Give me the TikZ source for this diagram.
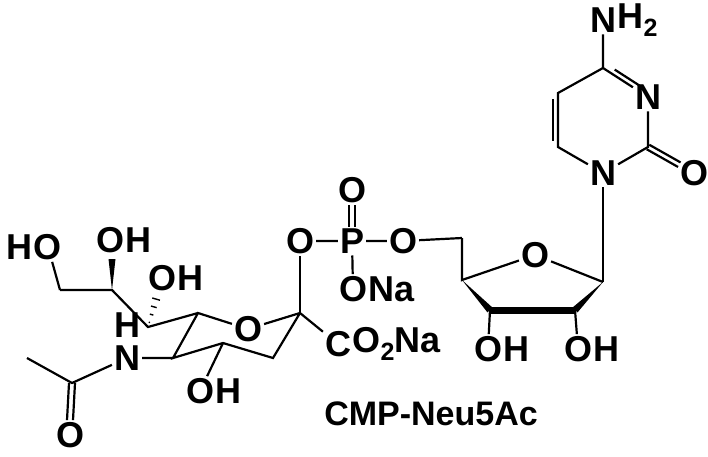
\documentclass[tikz,border=0pt]{standalone}
\usepackage{fontspec}
\setmainfont{Liberation Sans}
\usetikzlibrary{calc}
\newcommand{\sub}[1]{\raisebox{-0.4ex}{\fontsize{25}{25}\selectfont #1}}
\begin{document}
\begin{tikzpicture}[x=1pt,y=-1pt,line width=2.2pt,
  atom/.style={inner sep=1pt,font=\fontsize{36}{36}\selectfont\bfseries},
  tail/.style={inner sep=0pt,xshift=-1.5pt,font=\fontsize{36}{36}\selectfont\bfseries},
  bond/.style={line width=2.2pt}]
\useasboundingbox (0,0) rectangle (708,456);
% ---- cytosine
\coordinate (c4) at (603,68);
\coordinate (c5) at (558,93);
\coordinate (c6) at (558,147);
\coordinate (c2) at (648,147);
\node[atom] (nh) at (603,20) {N};
\node[tail,anchor=west] (nhh) at (nh.east) {H\sub{2}};
\node[atom] (n3) at (648,97) {N};
\node[atom] (n1) at (603,173) {N};
\node[atom] (o2) at (694,173) {O};
\draw[bond] (nh) -- (c4) -- (c5) -- (c6) -- (n1) -- (c2) -- (n3) -- (c4);
\draw[bond] ($(c4)!0.2!(n3)!5pt!90:(n3)$) -- ($(c4)!0.75!(n3)!5pt!90:(n3)$);
\draw[bond] ($(c5)!0.12!(c6)!5pt!-90:(c6)$) -- ($(c5)!0.88!(c6)!5pt!-90:(c6)$);
\coordinate (o2e) at ($(c2)!0.68!(o2)$);
\draw[bond] ($(c2)!2.6pt!90:(o2)$) -- ($(o2e)!2.6pt!-90:(c2)$);
\draw[bond] ($(c2)!2.6pt!-90:(o2)$) -- ($(o2e)!2.6pt!90:(c2)$);
% ---- ribose
\coordinate (c1r) at (603,282);
\node[atom] (or) at (535,255) {O};
\coordinate (c4r) at (462,280);
\coordinate (c3r) at (490,310);
\coordinate (c2r) at (575,310);
\coordinate (c5r) at (462,238);
\draw[bond] (n1) -- (c1r);
\draw[bond] (c1r) -- (or) -- (c4r) -- (c5r);
\fill (c4r) -- ($(c3r)!3.5pt!90:(c4r)$) -- ($(c3r)!3.5pt!-90:(c4r)$) -- cycle;
\fill (c1r) -- ($(c2r)!3.5pt!90:(c1r)$) -- ($(c2r)!3.5pt!-90:(c1r)$) -- cycle;
\draw[line width=7pt] (c3r) -- (c2r);
\node[atom] (o3r) at (488,349) {O};
\node[tail,anchor=west] at (o3r.east) {H};
\node[atom] (o2r) at (578,349) {O};
\node[tail,anchor=west] at (o2r.east) {H};
\draw[bond] (c3r) -- (o3r);
\draw[bond] (c2r) -- (o2r);
% ---- phosphate
\node[atom] (o5) at (403,241) {O};
\node[atom] (p) at (352,241) {P};
\node[atom] (op) at (352,190) {O};
\node[atom] (ona) at (353,289) {O};
\node[tail,anchor=west] at (ona.east) {Na};
\node[atom] (oa) at (300,241) {O};
\draw[bond] (c5r) -- (o5) -- (p) -- (oa);
\draw[bond] (p) -- (ona);
\draw[bond] ([xshift=-3pt]p.north) -- ([xshift=-3pt]op.south);
\draw[bond] ([xshift=3pt]p.north) -- ([xshift=3pt]op.south);
% ---- sialic acid
\coordinate (s2) at (300,313);
\node[atom] (so) at (248,329) {O};
\coordinate (s6) at (198,313);
\coordinate (s5) at (173,358);
\coordinate (s4) at (223,343);
\coordinate (s3) at (273,358);
\coordinate (s7) at (148,327);
\coordinate (s8) at (112,290);
\coordinate (s9) at (60,290);
\draw[bond] (s2) -- (so) -- (s6) -- (s5) -- (s4) -- (s3) -- (s2);
\draw[bond] (s6) -- (s7) -- (s8) -- (s9);
\draw[bond] (s2) -- (oa);
\node[atom] (cc) at (338,344) {C};
\node[tail,anchor=west] at (cc.east) {O\sub{2}Na};
\draw[bond] (s2) -- (cc);
\node[atom] (o4) at (200,391) {O};
\node[tail,anchor=west] at (o4.east) {H};
\draw[bond] (s4) -- (o4);
\node[atom] (o7) at (162,278) {O};
\node[tail,anchor=west] at (o7.east) {H};
\coordinate (h7) at (157,296);
\foreach \t in {0.15,0.4,0.65,0.9}
  \draw[line width=1.4pt] ($(s7)!\t!(h7)!{\t*4.5pt}!90:(h7)$) -- ($(s7)!\t!(h7)!{\t*4.5pt}!-90:(h7)$);
\node[atom] (o8) at (110,240) {O};
\node[tail,anchor=west] at (o8.east) {H};
\coordinate (w8) at (112,259);
\fill (s8) -- ($(w8)!3.5pt!90:(s8)$) -- ($(w8)!3.5pt!-90:(s8)$) -- cycle;
\node[atom] (o9) at (48,247) {O};
\node[tail,anchor=east,xshift=3pt] at (o9.west) {H};
\draw[bond] (s9) -- (o9);
% ---- acetamide
\node[atom] (nn) at (127,358) {N};
\node[atom] (hn) at (127,325) {H};
\coordinate (ca) at (72,383);
\coordinate (me) at (27,358);
\node[atom] (oc) at (70,435) {O};
\draw[bond] (s5) -- (nn) -- (ca) -- (me);
\draw[bond] ([xshift=-3pt]ca) -- ([xshift=-3pt]oc.north);
\draw[bond] ([xshift=3pt]ca) -- ([xshift=3pt]oc.north);
% ---- title
\node[font=\fontsize{34}{34}\selectfont\bfseries] (title) at (431,414) {CMP-Neu5Ac};
\end{tikzpicture}
\end{document}
